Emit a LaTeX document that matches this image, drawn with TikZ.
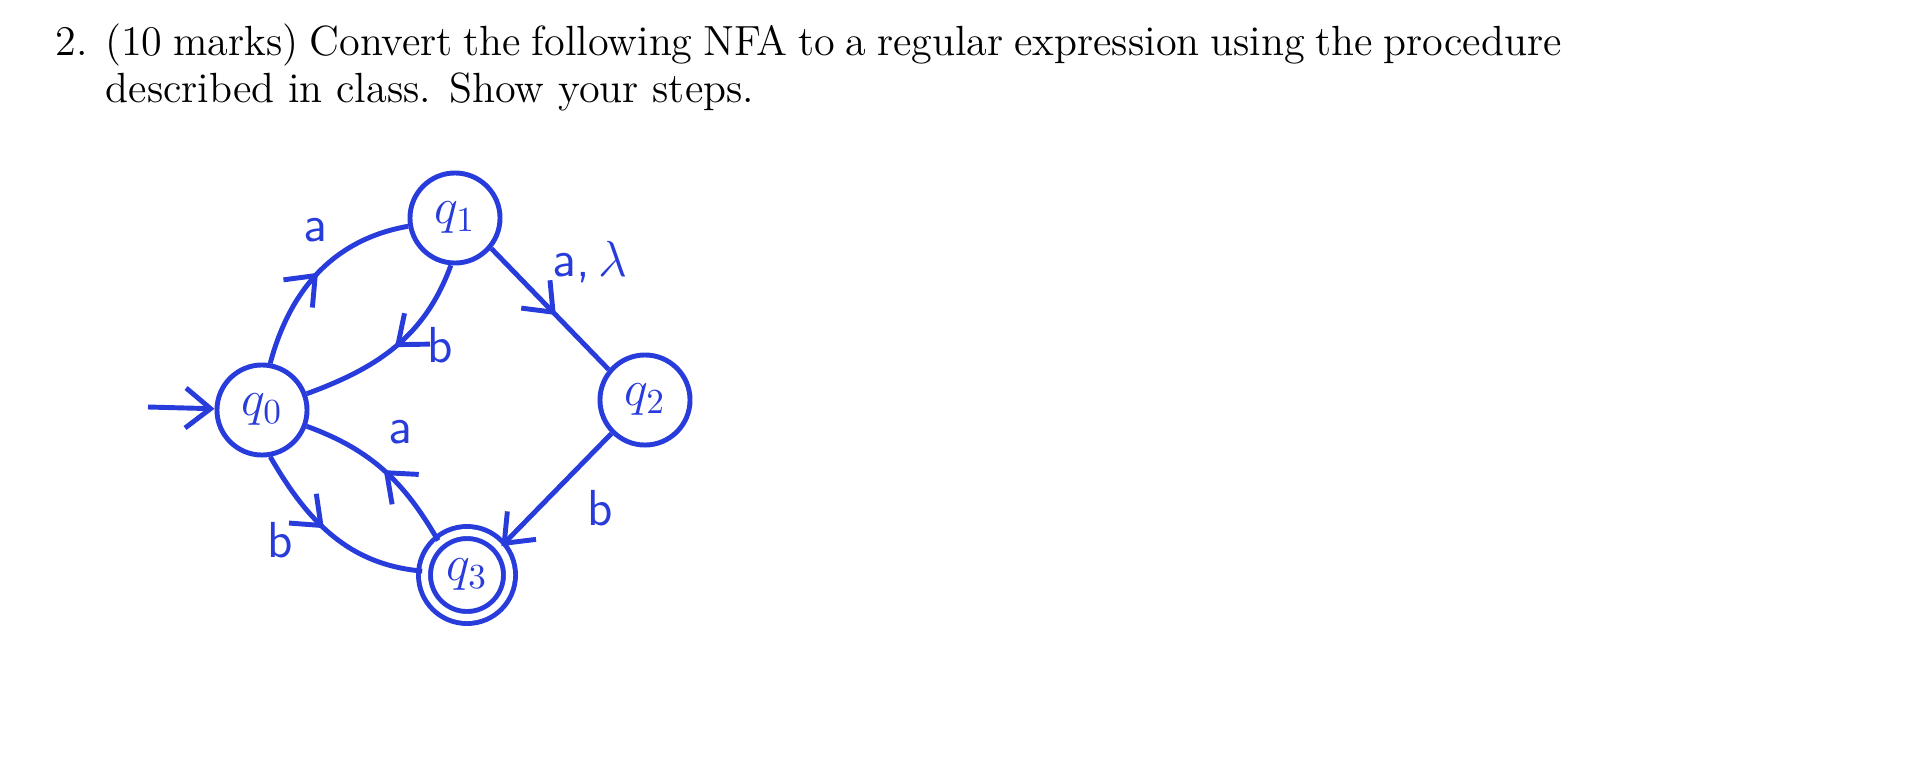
\documentclass[tikz,border=0pt]{standalone}
\usetikzlibrary{decorations.markings,arrows.meta}
\definecolor{pen}{RGB}{40,60,220}
\tikzset{
 st/.style={circle,draw=pen,line width=1.4pt,minimum size=0.9cm,text=pen,font=\Large\sffamily},
 ed/.style={draw=pen,line width=1.4pt},
 midarr/.style={postaction={decorate},decoration={markings,mark=at position #1 with {\arrow{Straight Barb[length=2.5mm,width=4mm]}}}},
 lab/.style={text=pen,font=\Large\sffamily},
}
\begin{document}
\begin{tikzpicture}[x=0.01cm,y=-0.01cm]
\useasboundingbox (0,0) rectangle (1920,775);
\node[anchor=base west,inner sep=0,font=\fontsize{12}{15}\selectfont] (t1) at (55,55) {\makebox[15.05cm][s]{2. (10 marks) Convert the following NFA to a regular expression using the procedure}};
\node[anchor=base west,inner sep=0,font=\fontsize{12}{15}\selectfont] (t2) at (105,102) {described in class. Show your steps.};
\node[st] (q0) at (262,410) {$q_0$};
\node[st] (q1) at (455,218) {$q_1$};
\node[st] (q2) at (645,400) {$q_2$};
\node[st,double,double distance=2pt,minimum size=0.78cm] (q3) at (467,575) {$q_3$};
\coordinate (init) at (148,407);
\draw[ed,-{Straight Barb[length=2.5mm,width=4mm]}] (init) -- (q0);
\draw[ed,midarr=0.5] (q0.80) to[out=75,in=190] (q1.190);
\draw[ed,midarr=0.5] (q1.265) to[out=250,in=20] (q0.20);
\draw[ed,midarr=0.55] (q1.-40) -- (q2.140);
\draw[ed,-{Straight Barb[length=2.5mm,width=4mm]}] (q2.225) -- (q3.40);
\draw[ed,midarr=0.5] (q3.130) to[out=120,in=-20] (q0.-20);
\draw[ed,midarr=0.45] (q0.-80) to[out=-60,in=175] (q3.175);
\node[lab] (la) at (315,230) {a};
\node[lab] (lb) at (440,345) {b};
\node[lab] (lal) at (590,262) {a,\,$\lambda$};
\node[lab] (lb2) at (600,508) {b};
\node[lab] (la2) at (400,432) {a};
\node[lab] (lb3) at (280,540) {b};
\end{tikzpicture}
\end{document}
